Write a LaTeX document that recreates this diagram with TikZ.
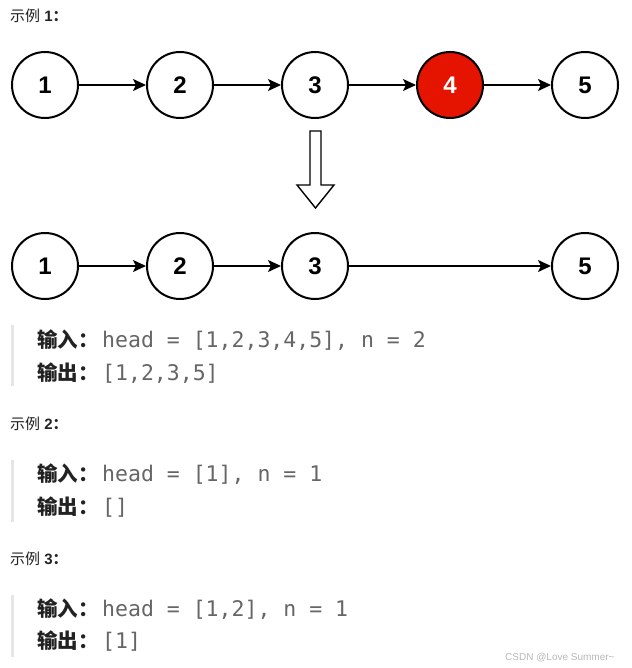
\documentclass[tikz,border=0pt]{standalone}
\usepackage{fontspec}
\setmainfont{Liberation Sans}
\setmonofont{DejaVu Sans Mono}
\newfontfamily\cjk{Noto Sans CJK SC}
\usetikzlibrary{arrows.meta}
\definecolor{nodered}{HTML}{E51400}
\definecolor{codegray}{HTML}{666666}
\definecolor{labelblack}{HTML}{222222}
\definecolor{bargray}{HTML}{E5E5E5}
\definecolor{wmgray}{HTML}{B8B8B8}
\begin{document}
\begin{tikzpicture}[x=1pt,y=-1pt,
  listnode/.style={circle,draw=black,line width=2pt,minimum size=66pt,inner sep=0pt,
    font=\fontsize{24}{24}\selectfont\bfseries,fill=white},
  rednode/.style={listnode,fill=nodered,text=white},
  link/.style={line width=1.6pt,-{Stealth[length=13pt,width=12pt,inset=3pt]}},
  exlabel/.style={anchor=base west,inner sep=0pt,text=labelblack,font=\fontsize{15}{15}\selectfont},
  keylabel/.style={anchor=base west,inner sep=0pt,text=labelblack,font=\fontsize{20.5}{20.5}\selectfont\cjk\bfseries},
  code/.style={anchor=base west,inner sep=0pt,text=codegray,font=\fontsize{21.5}{21.5}\selectfont\ttfamily},
  bar/.style={draw=bargray,line width=3pt},
  bigarrow/.style={draw=black,line width=1.4pt,fill=white,line join=miter}
]
\useasboundingbox (0,0) rectangle (631,668);
\fill[white] (0,0) rectangle (631,668);

% example 1 label
\node[exlabel] (ex1) at (10,22) {{\cjk 示例} \textbf{1}{\cjk\bfseries ：}};

% row 1
\node[listnode] (a1) at (45,85) {1};
\node[listnode] (a2) at (180,85) {2};
\node[listnode] (a3) at (315,85) {3};
\node[rednode]  (a4) at (450,85) {4};
\node[listnode] (a5) at (585,85) {5};
\draw[link] (a1) -- (a2);
\draw[link] (a2) -- (a3);
\draw[link] (a3) -- (a4);
\draw[link] (a4) -- (a5);

% hollow down arrow
\draw[bigarrow] (310,131) -- (321,131) -- (321,185) -- (334,185) -- (315.5,208)
  -- (297,185) -- (310,185) -- cycle;

% row 2
\node[listnode] (b1) at (45,266) {1};
\node[listnode] (b2) at (180,266) {2};
\node[listnode] (b3) at (315,266) {3};
\node[listnode] (b5) at (585,266) {5};
\draw[link] (b1) -- (b2);
\draw[link] (b2) -- (b3);
\draw[link] (b3) -- (b5);

% block 1
\draw[bar] (12,325) -- (12,386);
\node[keylabel] (in1) at (37,347) {输入：};
\node[code] (cin1) at (102,347) {head = [1,2,3,4,5], n = 2};
\node[keylabel] (out1) at (37,380) {输出：};
\node[code] (cout1) at (102,380) {[1,2,3,5]};

% example 2
\node[exlabel] (ex2) at (10,429) {{\cjk 示例} \textbf{2}{\cjk\bfseries ：}};
\draw[bar] (12,460) -- (12,522);
\node[keylabel] (in2) at (37,481) {输入：};
\node[code] (cin2) at (102,481) {head = [1], n = 1};
\node[keylabel] (out2) at (37,514) {输出：};
\node[code] (cout2) at (102,514) {[]};

% example 3
\node[exlabel] (ex3) at (10,564) {{\cjk 示例} \textbf{3}{\cjk\bfseries ：}};
\draw[bar] (12,595) -- (12,657);
\node[keylabel] (in3) at (37,616) {输入：};
\node[code] (cin3) at (102,616) {head = [1,2], n = 1};
\node[keylabel] (out3) at (37,648) {输出：};
\node[code] (cout3) at (102,648) {[1]};

% watermark
\node[anchor=base west,inner sep=0pt,text=wmgray,font=\fontsize{10}{10}\selectfont] (wm) at (505,660) {CSDN @Love Summer\textasciitilde};
\end{tikzpicture}
\end{document}
